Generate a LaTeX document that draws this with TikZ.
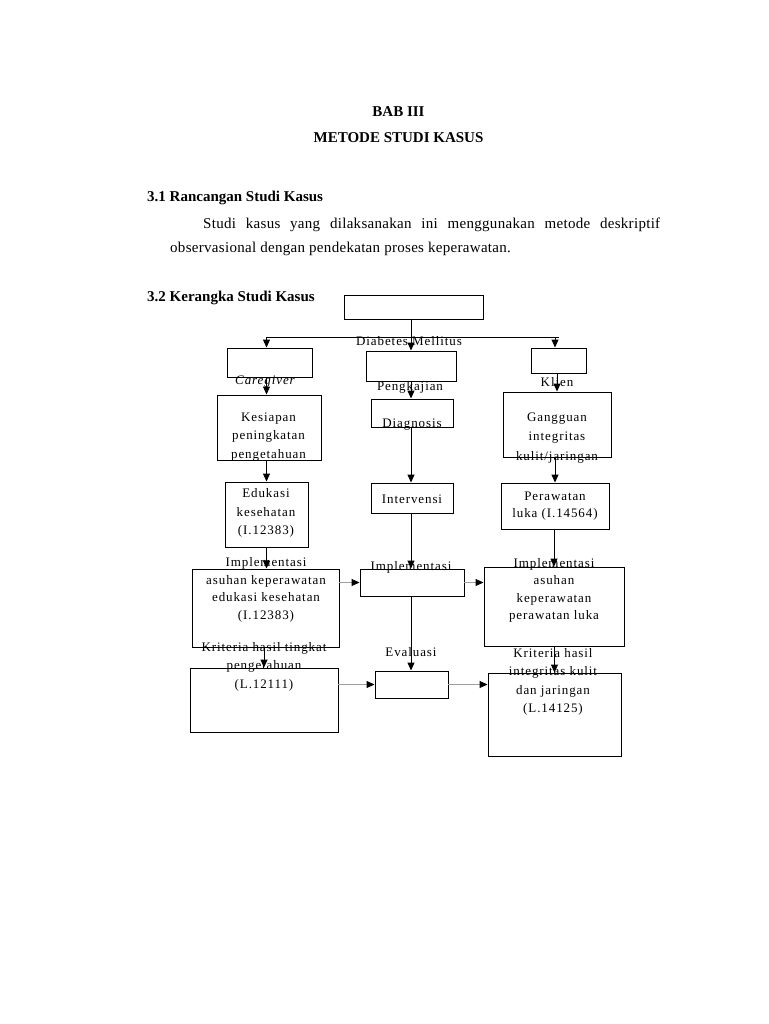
\documentclass[tikz,border=0pt]{standalone}
\usepackage{fontspec}
\setmainfont{Liberation Serif}
\newfontfamily\dfont[LetterSpace=7]{Liberation Serif}
\newfontfamily\bodyfont[LetterSpace=2]{Liberation Serif}
\usetikzlibrary{arrows.meta}
\begin{document}
\begin{tikzpicture}[x=1pt,y=-1pt,
  box/.style={draw, line width=0.95pt, inner sep=0pt, rectangle},
  lbl/.style={inner sep=0pt, align=center, font=\dfont\fontsize{13}{18.5}\selectfont},
  hd/.style={inner sep=0pt, font=\bfseries\fontsize{15}{18}\selectfont},
  body/.style={inner sep=0pt, font=\bodyfont\fontsize{15}{18}\selectfont},
  arr/.style={line width=0.95pt, -{Triangle[length=8pt,width=7pt]}},
  garr/.style={line width=0.95pt, draw=gray!75, -{Triangle[length=8pt,width=7pt,color=black]}},
  ln/.style={line width=0.95pt}]
\useasboundingbox[fill=white] (0,0) rectangle (768,1024);

% headings and body text
\node[hd, anchor=base] (bab) at (398.5,117) {BAB III};
\node[hd, anchor=base] (metode) at (398.5,143) {METODE STUDI KASUS};
\node[hd, anchor=base west] (s31) at (147,202) {3.1 Rancangan Studi Kasus};
\node[body, anchor=base west] (p1) at (203,229) {\makebox[457pt][s]{Studi kasus yang dilaksanakan ini menggunakan metode deskriptif}};
\node[body, anchor=base west] (p2) at (170,252) {observasional dengan pendekatan proses keperawatan.};
\node[hd, anchor=base west] (s32) at (147,301) {3.2 Kerangka Studi Kasus};

% boxes
\node[box, minimum width=139pt, minimum height=24pt] (top) at (413.5,307) {};
\node[box, minimum width=85pt, minimum height=29pt] (cg) at (269.5,362.5) {};
\node[box, minimum width=90pt, minimum height=30pt] (pk) at (411,366) {};
\node[box, minimum width=55pt, minimum height=25pt] (kl) at (558.5,360.5) {};
\node[box, minimum width=104pt, minimum height=65pt] (ks) at (269,427.5) {};
\node[box, minimum width=82pt, minimum height=28pt] (dg) at (412,413) {};
\node[box, minimum width=108pt, minimum height=65pt] (gg) at (557,424.5) {};
\node[box, minimum width=83pt, minimum height=65pt] (ed) at (266.5,514.5) {};
\node[box, minimum width=82pt, minimum height=30pt] (iv) at (412,498) {};
\node[box, minimum width=108pt, minimum height=46pt] (pw) at (555,506) {};
\node[box, minimum width=147pt, minimum height=78pt] (il) at (265.5,608) {};
\node[box, minimum width=104pt, minimum height=27pt] (im) at (412,582.5) {};
\node[box, minimum width=140pt, minimum height=79pt] (ir) at (554,606.5) {};
\node[box, minimum width=148pt, minimum height=64pt] (kh) at (264,700) {};
\node[box, minimum width=73pt, minimum height=27pt] (ev) at (411.5,684.5) {};
\node[box, minimum width=133pt, minimum height=83pt] (kr) at (554.5,714.5) {};

% connectors
\coordinate (hy) at (410,337);
\draw[ln] (top.south -| pk.north) -- (pk.north |- hy);
\draw[arr] (top.south -| pk.north) -- (pk.north);
\draw[ln] (ed.north |- hy) -- (kl.north |- hy);
\draw[arr] (ed.north |- hy) -- (ed.north |- cg.north);
\draw[arr] (pw.north |- hy) -- (pw.north |- kl.north);
\draw[arr] (ed.north |- cg.south) -- (ed.north |- ks.north);
\draw[arr] (ed.north |- ks.south) -- (ed.north);
\draw[arr] (ed.south) -- (ed.south |- il.north);
\draw[arr] (kh.north |- il.south) -- (kh.north);
\draw[arr] (pk.south) -- (pk.south |- dg.north);
\draw[arr] (pk.south |- dg.south) -- (pk.south |- iv.north);
\draw[arr] (pk.south |- iv.south) -- (pk.south |- im.north);
\draw[arr] (pk.south |- im.south) -- (pk.south |- ev.north);
\draw[arr] (gg.north |- kl.south) -- (gg.north);
\draw[arr] (pw.north |- gg.south) -- (pw.north);
\draw[arr] (ir.north |- pw.south) -- (ir.north);
\draw[arr] (kr.north |- ir.south) -- (kr.north);
\draw[garr] (il.east |- im) -- (im.west);
\draw[garr] (im.east) -- (im.east -| ir.west);
\draw[garr] (kh.east |- ev) -- (ev.west);
\draw[garr] (ev.east) -- (ev.east -| kr.west);

% labels
\node[lbl] (tdm) at (409,341) {Diabetes Mellitus};
\node[lbl] (tcg) at (265,382) {\itshape Caregiver};
\node[lbl] (tpk) at (410,387) {Pengkajian};
\node[lbl] (tkl) at (557,382) {Klien};
\node[lbl] (tks) at (268.5,437) {Kesiapan\\peningkatan\\pengetahuan};
\node[lbl] (tdg) at (412,425) {Diagnosis};
\node[lbl, font=\dfont\fontsize{13}{19.5}\selectfont] (tgg) at (557,438) {Gangguan\\integritas\\kulit/jaringan};
\node[lbl] (ted) at (266,513) {Edukasi\\kesehatan\\(I.12383)};
\node[lbl] (tiv) at (412,499) {Intervensi};
\node[lbl, font=\dfont\fontsize{13}{17.5}\selectfont] (tpw) at (555,506) {Perawatan\\luka (I.14564)};
\node[lbl, font=\dfont\fontsize{13}{17.7}\selectfont] (til) at (266,590) {Implementasi\\asuhan keperawatan\\edukasi kesehatan\\(I.12383)};
\node[lbl] (tim) at (411,567) {Implementasi};
\node[lbl, font=\dfont\fontsize{13}{17.3}\selectfont] (tir) at (554,590.5) {Implementasi\\asuhan\\keperawatan\\perawatan luka};
\node[lbl] (tkh) at (264,666.5) {Kriteria hasil tingkat\\pengetahuan\\(L.12111)};
\node[lbl] (tev) at (411,652) {Evaluasi};
\node[lbl, font=\dfont\fontsize{13}{18.3}\selectfont] (tkr) at (553,682) {Kriteria hasil\\integritas kulit\\dan jaringan\\(L.14125)};
\end{tikzpicture}
\end{document}
